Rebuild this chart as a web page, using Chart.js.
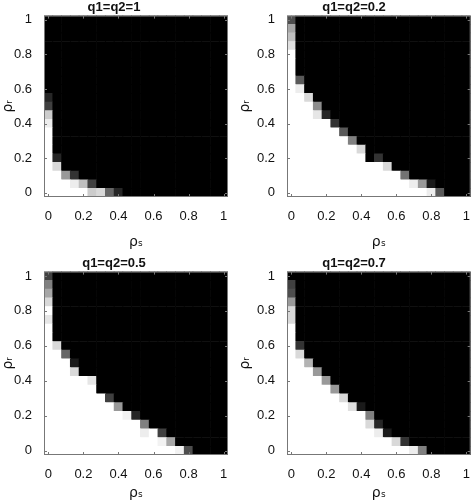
<!DOCTYPE html>
<html><head><meta charset="utf-8">
<script src="https://cdn.jsdelivr.net/npm/chart.js@4"></script>
<style>
body{margin:0;background:#fff;width:474px;height:502px;position:relative;overflow:hidden}
.p{position:absolute;width:237px;height:251px}
</style></head><body>
<div class="p" style="left:0;top:0"><canvas id="c0"></canvas></div>
<div class="p" style="left:237px;top:0"><canvas id="c1"></canvas></div>
<div class="p" style="left:0;top:251px"><canvas id="c2"></canvas></div>
<div class="p" style="left:237px;top:251px"><canvas id="c3"></canvas></div>
<script>
// grid coordinates (rho_s columns, rho_r rows)
const rhoS = [0,0.05,0.1,0.15,0.2,0.25,0.3,0.35,0.4,0.45,0.5,0.55,0.6,0.65,0.7,0.75,0.8,0.85,0.9,0.95,1];
const rhoR = [0,0.05,0.1,0.15,0.2,0.25,0.3,0.35,0.4,0.45,0.5,0.55,0.6,0.65,0.7,0.75,0.8,0.85,0.9,0.95,1];
const tickVals = [0,0.2,0.4,0.6,0.8,1];
const titles = ['q1=q2=1','q1=q2=0.2','q1=q2=0.5','q1=q2=0.7'];
// per column: cell intensities from rho_r=0 upward (1=white); cells beyond are black (0)
const panelQ1 = [
 [1,1,1,1,1,1,1,1,0.93,0.8,0.25,0.15],
 [1,1,1,0.85,0.15],
 [1,1,0.6],
 [1,0.93,0.2],
 [1,0.75],
 [0.8,0.25],
 [0.85],[0.4],[0.15]
];
const panelQ02 = [
 [1,1,1,1,1,1,1,1,1,1,1,1,1,1,1,1,1,0.88,0.75,0.65,0.3],
 [1,1,1,1,1,1,1,1,1,1,1,1,0.93,0.35],
 [1,1,1,1,1,1,1,1,1,1,1,0.85],
 [1,1,1,1,1,1,1,1,1,0.9,0.55],
 [1,1,1,1,1,1,1,1,1,0.15],
 [1,1,1,1,1,1,1,1,0.2],
 [1,1,1,1,1,1,1,0.35],
 [1,1,1,1,1,1,0.5],
 [1,1,1,1,1,0.85],
 [1,1,1,1],
 [1,1,1,1,0.2],
 [1,1,1,0.85],
 [1,1,1],
 [1,1,0.45],
 [1,0.93],
 [1,0.6],
 [0.93,0.1],
 [0.35]
];
const panelQ05 = [
 [1,1,1,1,1,1,1,1,1,1,1,1,1,1,1,0.9,1,0.85,0.65,0.5,0.25],
 [1,1,1,1,1,1,1,1,1,1,1,1,0.85],
 [1,1,1,1,1,1,1,1,1,1,1,0.4],
 [1,1,1,1,1,1,1,1,1,0.85,0.1],
 [1,1,1,1,1,1,1,1,1],
 [1,1,1,1,1,1,1,1,0.9],
 [1,1,1,1,1,1,1],
 [1,1,1,1,1,1,0.25],
 [1,1,1,1,1,0.6],
 [1,1,1,1,0.95],
 [1,1,1,1,0.15],
 [1,1,0.93,0.5],
 [1,1,1],
 [1,0.95,0.25],
 [1,0.65],
 [0.95],
 [0.3]
];
const panelQ07 = [
 [1,1,1,1,1,1,1,1,1,1,1,1,1,1,1,0.85,0.85,0.6,0.3,0.25],
 [1,1,1,1,1,1,1,1,1,1,1,0.85,0.2],
 [1,1,1,1,1,1,1,1,1,1,0.7],
 [1,1,1,1,1,1,1,1,1,0.6],
 [1,1,1,1,1,1,1,1,0.6],
 [1,1,1,1,1,1,1,0.6],
 [1,1,1,1,1,1,0.85],
 [1,1,1,1,1,0.88],
 [1,1,1,1,1,0.1],
 [1,1,1,0.85,0.5],
 [1,1,0.93,0.15],
 [1,1,0.1],
 [1,0.85],
 [1,0.2],
 [0.93],
 [0.5]
];
const panels = [panelQ1, panelQ02, panelQ05, panelQ07];

const boxPlugin = {id:'box', afterDraw(ch){const a=ch.chartArea,c=ch.ctx;c.save();c.strokeStyle='#777';c.lineWidth=1;c.strokeRect(a.left+0.5,a.top+0.5,a.right-a.left-1,a.bottom-a.top-1);
 c.fillStyle='#777';
 tickVals.forEach(v=>{const x=Math.round(ch.scales.x.getPixelForValue(v))+0.5,y=Math.round(ch.scales.y.getPixelForValue(v))+0.5;
  c.beginPath();c.moveTo(x,a.bottom);c.lineTo(x,a.bottom-3);c.moveTo(x,a.top);c.lineTo(x,a.top+3);
  c.moveTo(a.left,y);c.lineTo(a.left+3,y);c.moveTo(a.right,y);c.lineTo(a.right-3,y);c.stroke();});
 c.restore();}};

function gray(v){const g=Math.round(v*255);return `rgb(${g},${g},${g})`;}

panels.forEach((cols,pi)=>{
  const right = pi%2===1, bottom = pi>=2;
  const datasets = rhoR.map((r,ri)=>({
    data: rhoS.map(s=>({x:s,y:[r-0.025,r+0.025]})),
    backgroundColor: rhoS.map((s,ci)=>{const col=cols[ci]||[];return gray(ri<col.length?col[ri]:0);}),
    borderWidth:0, barPercentage:1, categoryPercentage:1, grouped:false
  }));
  new Chart(document.getElementById('c'+pi),{
    type:'bar',
    data:{datasets},
    plugins:[boxPlugin],
    options:{
      responsive:true, maintainAspectRatio:false, animation:false,
      layout:{padding:{top:bottom?5:0,right:right?3:9,left:0,bottom:0}},
      plugins:{legend:{display:false},tooltip:{enabled:false},
        title:{display:true,text:titles[pi],color:'#111',font:{family:'Liberation Sans, Arial',size:13},padding:{top:0,bottom:0}}},
      scales:{
        x:{type:'linear',min:-0.025,max:1.025,offset:false,
          afterBuildTicks:s=>{s.ticks=tickVals.map(v=>({value:v}));},
          afterFit:s=>{s.height=bottom?47:54;},
          ticks:{color:'#111',font:{family:'Liberation Sans, Arial',size:13},maxRotation:0,padding:4,callback:v=>String(v)},
          grid:{display:false},border:{display:false},
          title:{display:true,text:'ρₛ',color:'#111',font:{family:'DejaVu Sans',size:14},padding:{top:2,bottom:0}}},
        y:{type:'linear',min:-0.025,max:1.025,
          afterBuildTicks:s=>{s.ticks=tickVals.map(v=>({value:v}));},
          afterFit:s=>{s.width=right?50:44;},
          ticks:{color:'#111',font:{family:'Liberation Sans, Arial',size:13},padding:4,callback:v=>String(v)},
          grid:{display:false},border:{display:false},
          title:{display:true,text:'ρᵣ',color:'#111',font:{family:'DejaVu Sans',size:14},padding:0}}
      }
    }
  });
});
</script></body></html>
